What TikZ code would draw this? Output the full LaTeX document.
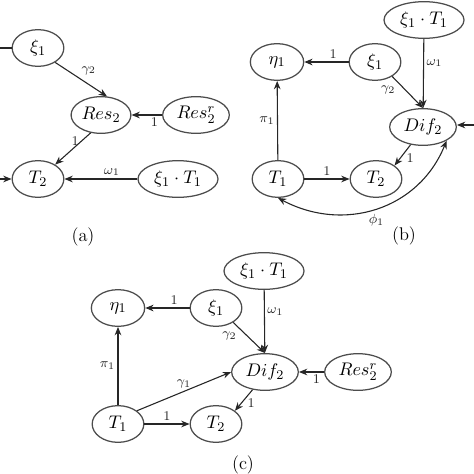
\documentclass[tikz,border=0pt]{standalone}
\usepackage{tikz}
\usetikzlibrary{shapes.geometric, arrows.meta}

\begin{document}
\begin{tikzpicture}[
  x=0.6pt, y=-0.6pt,
  var/.style={ellipse, draw=black!70, line width=0.75pt, minimum width=31pt, minimum height=22pt, inner sep=1pt, font=\fontsize{11}{13}\selectfont},
  varwide/.style={var, minimum width=40pt},
  varprod/.style={var, minimum width=48pt},
  arrow/.style={-{Stealth[length=5pt, width=4pt]}, line width=0.65pt, black!85},
  lbl/.style={font=\footnotesize, inner sep=1.5pt},
  caption/.style={font=\fontsize{11}{13}\selectfont}
]
  \useasboundingbox (0,0) rectangle (474,474);

  % Panel (a)
  \node[var] (a-xi) at (38,48) {$\xi_1$};
  \node[var, minimum width=33pt] (a-res) at (101,115) {$Res_2$};
  \node[varwide] (a-resr) at (196,115) {$Res_2^r$};
  \node[var] (a-t2) at (38,179) {$T_2$};
  \node[varprod] (a-xit) at (178,179) {$\xi_1\cdot T_1$};
  \coordinate (a-out) at (0,48);
  \coordinate (a-in) at (0,179);
  \node[caption] (a-cap) at (83,237) {(a)};

  \draw[line width=0.65pt, black!85] (a-xi) -- (a-out);
  \draw[arrow] (a-xi.-40) -- (a-res.72) node[lbl, pos=0.45, above right] {$\gamma_2$};
  \draw[arrow] (a-resr) -- (a-res) node[lbl, pos=0.25, below] {1};
  \draw[arrow] (a-res.-120) -- (a-t2.40) node[lbl, pos=0.25, left] {1};
  \draw[arrow] (a-xit) -- (a-t2) node[lbl, pos=0.35, above] {$\omega_1$};
  \draw[arrow] (a-in) -- (a-t2);

  % Panel (b)
  \node[var, minimum width=32pt] (b-eta) at (277,62) {$\eta_1$};
  \node[var] (b-xi) at (375,62) {$\xi_1$};
  \node[varprod] (b-xit) at (424,20) {$\xi_1\cdot T_1$};
  \node[varwide] (b-dif) at (423,127) {$Dif_2$};
  \node[var] (b-t1) at (278,179) {$T_1$};
  \node[var] (b-t2) at (376,179) {$T_2$};
  \coordinate (b-in) at (474,125);
  \node[caption] (b-cap) at (404,236) {(b)};

  \draw[arrow] (b-xi) -- (b-eta) node[lbl, pos=0.35, above] {1};
  \draw[arrow] (b-xit) -- (b-dif) node[lbl, pos=0.35, right] {$\omega_1$};
  \draw[arrow] (b-xi.-40) -- (b-dif.north) node[lbl, pos=0.2, below left] {$\gamma_2$};
  \draw[arrow] (b-t1) -- (b-eta) node[lbl, pos=0.5, left] {$\pi_1$};
  \draw[arrow] (b-t1) -- (b-t2) node[lbl, pos=0.5, above] {1};
  \draw[arrow] (b-dif.-125) -- (b-t2.36) node[lbl, pos=0.65, right=2pt] {1};
  \draw[arrow] (b-in) -- (b-dif.east |- b-in);
  \draw[{Stealth[length=5pt, width=4pt]}-{Stealth[length=5pt, width=4pt]}, line width=0.65pt, black!85]
    (b-t1.south) to[out=-28, in=-112, looseness=1.07] node[lbl, pos=0.5, below=2pt] {$\phi_1$} (b-dif.-30);

  % Panel (c)
  \node[var, minimum width=32pt] (c-eta) at (118,308) {$\eta_1$};
  \node[var] (c-xi) at (216,308) {$\xi_1$};
  \node[varprod] (c-xit) at (264,271) {$\xi_1\cdot T_1$};
  \node[varwide] (c-dif) at (265,372) {$Dif_2$};
  \node[varwide] (c-resr) at (358,372) {$Res_2^r$};
  \node[var] (c-t1) at (118,424) {$T_1$};
  \node[var] (c-t2) at (216,424) {$T_2$};
  \node[caption] (c-cap) at (243,465) {(c)};

  \draw[arrow] (c-xi) -- (c-eta) node[lbl, pos=0.35, above] {1};
  \draw[arrow] (c-xit) -- (c-dif) node[lbl, pos=0.35, right] {$\omega_1$};
  \draw[arrow] (c-xi.-40) -- (c-dif.north) node[lbl, pos=0.2, below left] {$\gamma_2$};
  \draw[arrow] (c-t1) -- (c-eta) node[lbl, pos=0.5, left] {$\pi_1$};
  \draw[arrow] (c-t1.35) -- (c-dif.west) node[lbl, pos=0.5, above] {$\gamma_1$};
  \draw[arrow] (c-t1) -- (c-t2) node[lbl, pos=0.5, above] {1};
  \draw[arrow] (c-dif.-125) -- (c-t2.35) node[lbl, pos=0.65, right=2pt] {1};
  \draw[arrow] (c-resr) -- (c-dif) node[lbl, pos=0.3, below] {1};
\end{tikzpicture}
\end{document}
